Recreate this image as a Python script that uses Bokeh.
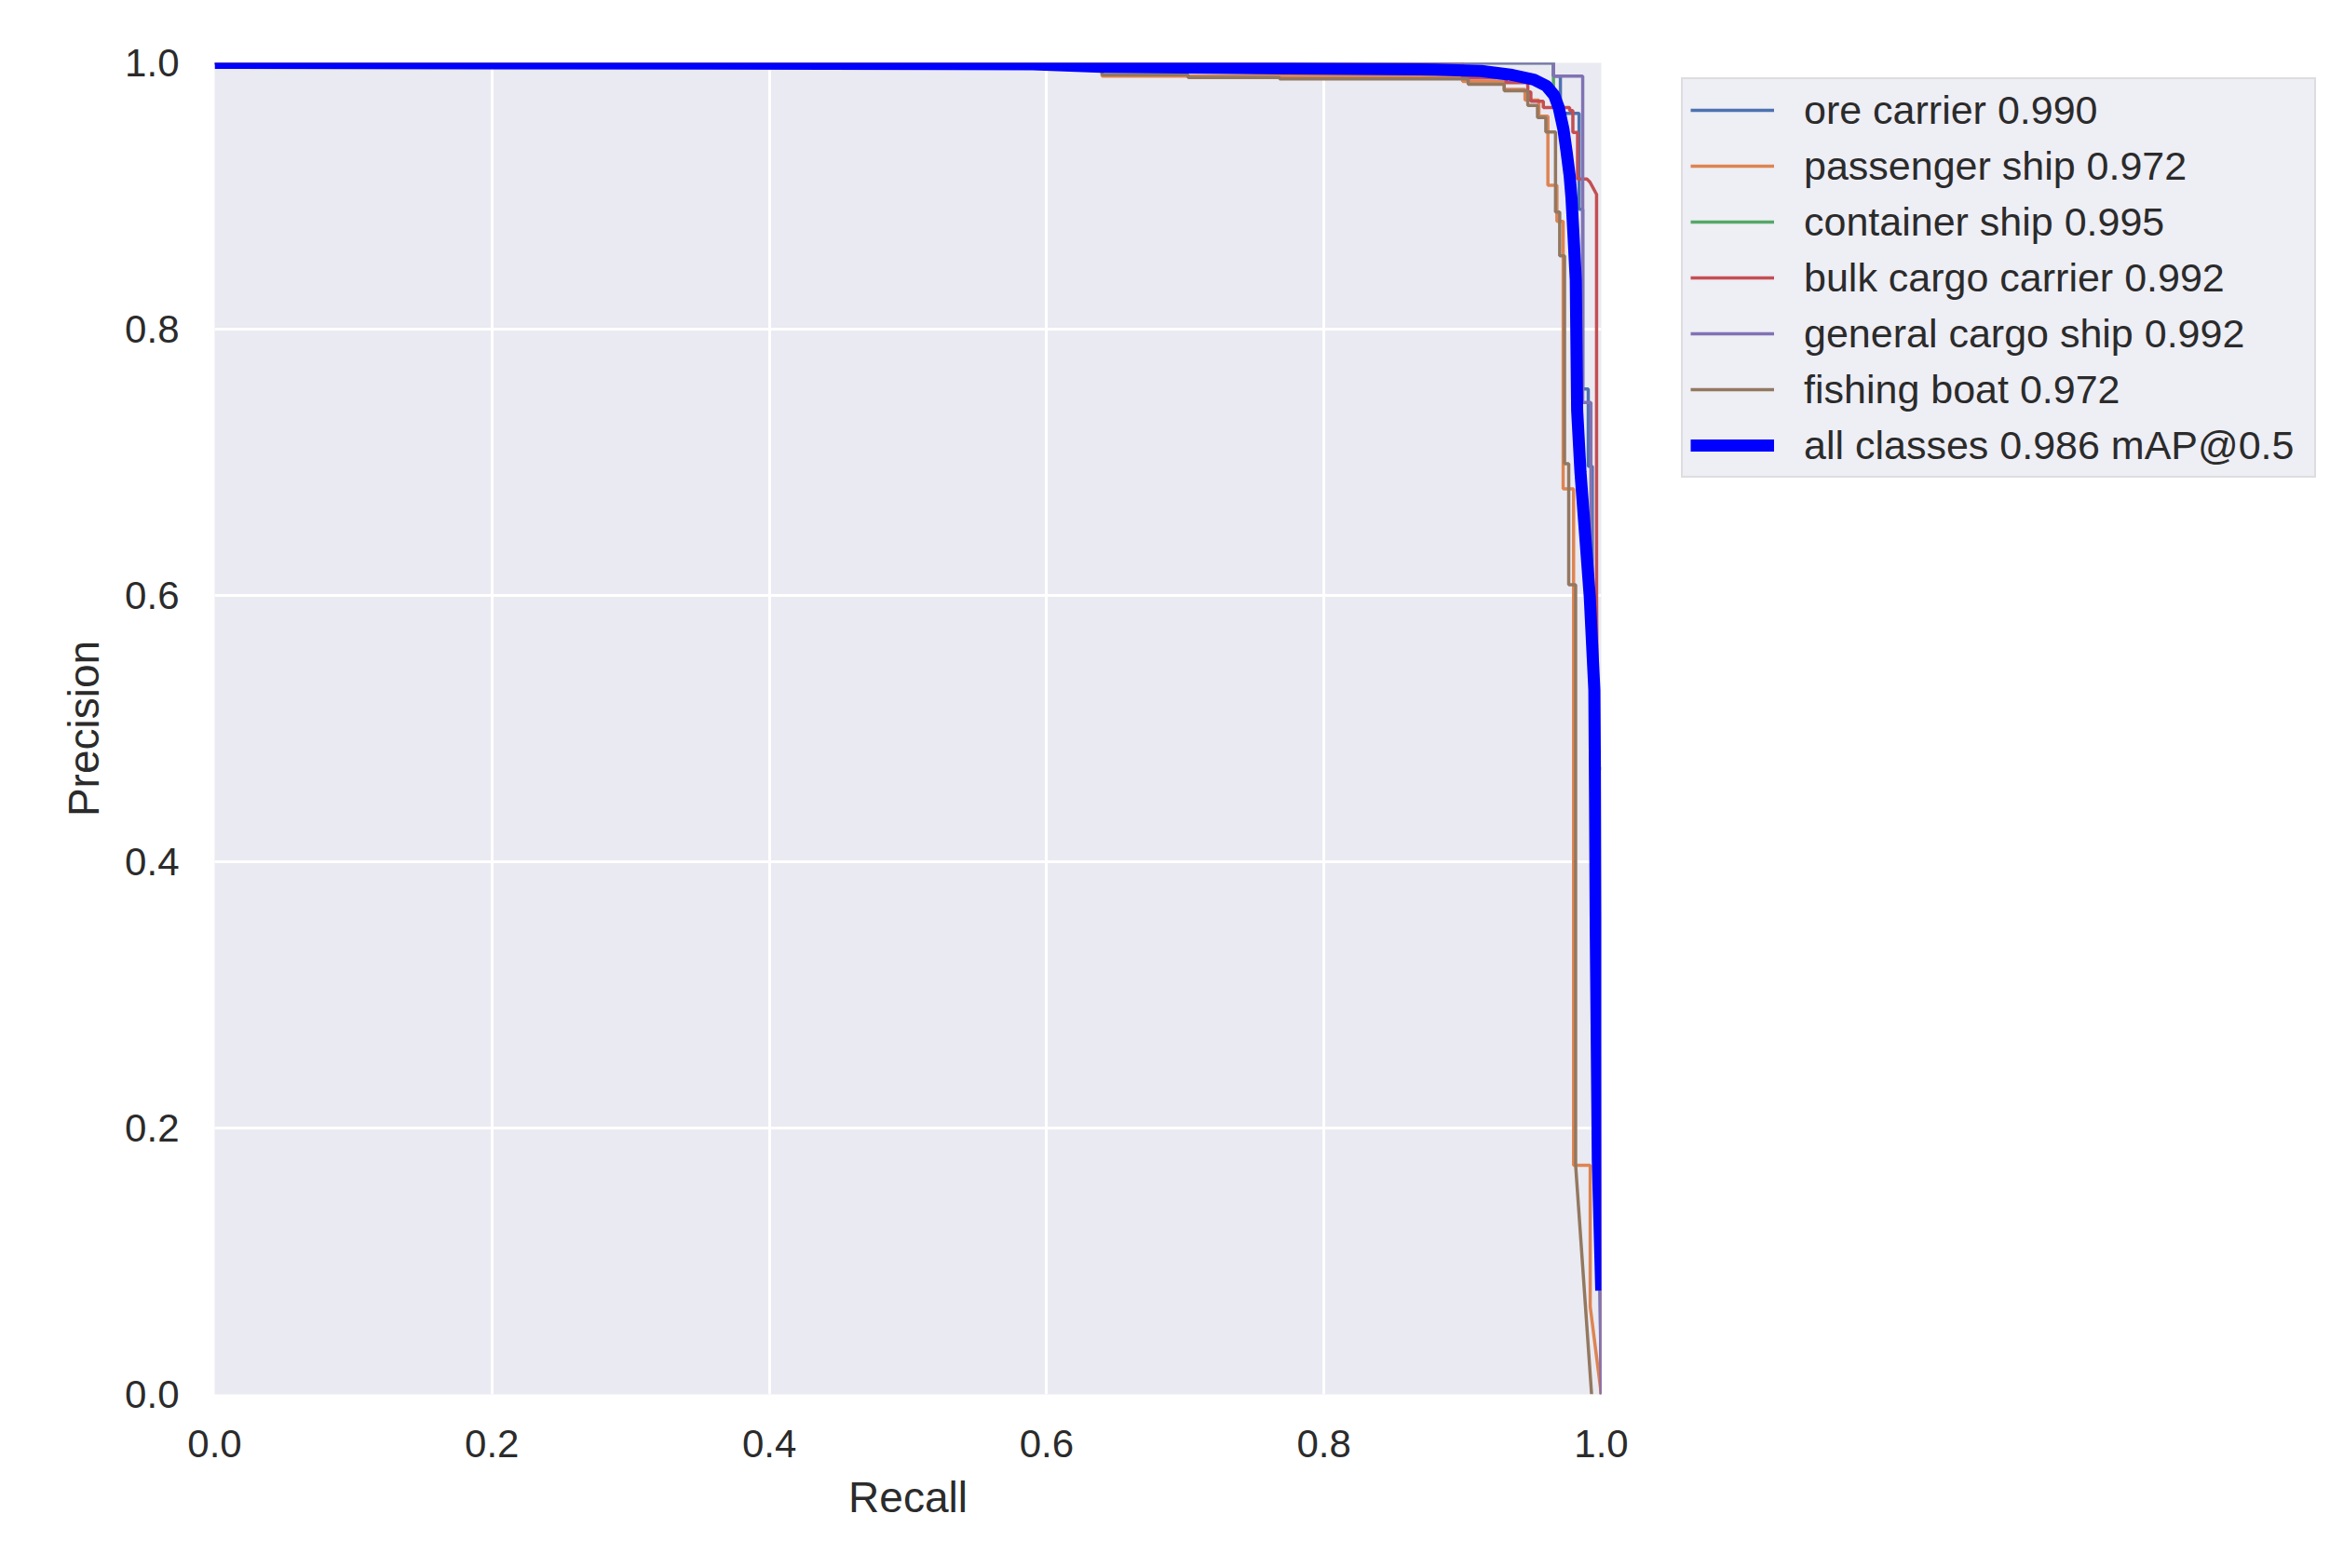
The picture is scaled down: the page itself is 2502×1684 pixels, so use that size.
from bokeh.plotting import figure
from bokeh.models import FixedTicker, PrintfTickFormatter
from bokeh.embed import file_html
from bokeh.resources import INLINE

# ---- data (recall, precision) ----
ore_r = [0.0, 0.9655, 0.9655, 0.9705, 0.9705, 0.984, 0.984, 0.9866, 0.9866, 0.9906, 0.9906, 0.9935, 0.9935, 1.0]
ore_p = [1.0, 1.0, 0.99, 0.99, 0.962, 0.962, 0.89, 0.89, 0.755, 0.755, 0.697, 0.697, 0.60, 0.0]

passenger_r = [0.0, 0.64, 0.64, 0.90, 0.90, 0.93, 0.93, 0.945, 0.945, 0.955, 0.955, 0.9615, 0.9615,
               0.968, 0.968, 0.9725, 0.9725, 0.980, 0.980, 0.992, 0.992, 1.0]
passenger_p = [1.0, 1.0, 0.990, 0.990, 0.986, 0.986, 0.980, 0.980, 0.972, 0.972, 0.960, 0.960, 0.908,
               0.908, 0.881, 0.881, 0.680, 0.680, 0.172, 0.172, 0.066, 0.0]

container_r = [0.0, 0.9655, 0.9655, 0.973, 0.978, 0.983, 0.99, 0.995, 0.997, 1.0]
container_p = [1.0, 1.0, 0.976, 0.95, 0.90, 0.74, 0.60, 0.53, 0.47, 0.47]

bulk_r = [0.0, 0.90, 0.90, 0.9313, 0.9313, 0.947, 0.947, 0.9492, 0.9492, 0.9582, 0.9582, 0.9772, 0.9772,
          0.9795, 0.9795, 0.9829, 0.9829, 0.9896, 0.9918, 0.9966, 0.9966, 1.0]
bulk_p = [1.0, 1.0, 0.9886, 0.9886, 0.9851, 0.9851, 0.9781, 0.9781, 0.9711, 0.9711, 0.9664, 0.9664, 0.9641,
          0.9641, 0.9478, 0.9478, 0.9128, 0.9128, 0.9105, 0.9012, 0.60, 0.0]

general_r = [0.0, 0.9655, 0.9655, 0.9866, 0.9866, 0.9925, 0.9925, 1.0]
general_p = [1.0, 1.0, 0.99, 0.99, 0.745, 0.745, 0.60, 0.0]

fishing_r = [0.0, 0.586, 0.586, 0.64, 0.64, 0.702, 0.702, 0.768, 0.768, 0.904, 0.904, 0.930, 0.930, 0.947,
             0.947, 0.954, 0.954, 0.960, 0.960, 0.967, 0.967, 0.970, 0.970, 0.9735, 0.9735, 0.9765, 0.9765,
             0.9815, 0.9815, 0.993]
fishing_p = [1.0, 1.0, 0.997, 0.997, 0.991, 0.991, 0.989, 0.989, 0.988, 0.988, 0.984, 0.984, 0.979, 0.979,
             0.968, 0.968, 0.959, 0.959, 0.948, 0.948, 0.888, 0.888, 0.855, 0.855, 0.699, 0.699, 0.608,
             0.608, 0.172, 0.0]

all_r = [0.0, 0.59, 0.64, 0.75, 0.88, 0.9134, 0.9358, 0.9514, 0.9604, 0.966, 0.9693, 0.9727, 0.9749,
         0.9772, 0.9785, 0.980, 0.9816, 0.9826, 0.985, 0.9917, 0.995, 0.9955, 0.996, 0.9975, 1.0]
all_p = [1.0, 0.999, 0.997, 0.996, 0.995, 0.9939, 0.9909, 0.9874, 0.9827, 0.9757, 0.9664, 0.9501, 0.9338,
         0.9151, 0.8988, 0.87, 0.837, 0.739, 0.6925, 0.599, 0.529, 0.45, 0.35, 0.176, 0.078]

labels = ["ore carrier 0.990", "passenger ship 0.972", "container ship 0.995",
          "bulk cargo carrier 0.992", "general cargo ship 0.992", "fishing boat 0.972",
          "all classes 0.986 mAP@0.5"]
colors = ["#4c72b0", "#dd8452", "#55a868", "#c44e52", "#8172b3", "#937860", "#0000ff"]
ticks = [0.0, 0.2, 0.4, 0.6, 0.8, 1.0]

FONT = "Liberation Sans"
TXT = "#2b2b2b"

p = figure(frame_width=1489, frame_height=1430, x_range=(0, 1), y_range=(0, 1),
           output_backend="svg", toolbar_location=None,
           min_border_left=230, min_border_right=767, min_border_top=67, min_border_bottom=171,
           background_fill_color="#eaeaf2", border_fill_color="white")
p.outline_line_color = None

series = [(ore_r, ore_p), (passenger_r, passenger_p), (container_r, container_p),
          (bulk_r, bulk_p), (general_r, general_p), (fishing_r, fishing_p)]
for (r, pr), lab, col in zip(series, labels[:6], colors[:6]):
    p.line(r, pr, line_color=col, line_width=3.5, legend_label=lab)
p.line(all_r, all_p, line_color=colors[6], line_width=13, legend_label=labels[6])

for ax in (p.xaxis, p.yaxis):
    ax.ticker = FixedTicker(ticks=ticks)
    ax.formatter = PrintfTickFormatter(format="%.1f")
    ax.axis_line_color = None
    ax.major_tick_line_color = None
    ax.minor_tick_line_color = None
    ax.major_tick_out = 0
    ax.major_tick_in = 0
    ax.major_label_text_font = FONT
    ax.major_label_text_font_size = "42px"
    ax.major_label_text_color = TXT
    ax.axis_label_text_font = FONT
    ax.axis_label_text_font_size = "46px"
    ax.axis_label_text_font_style = "normal"
    ax.axis_label_text_color = TXT

p.xaxis.axis_label = "Recall"
p.yaxis.axis_label = "Precision"
p.xaxis.major_label_standoff = 38
p.yaxis.major_label_standoff = 38
p.xaxis.axis_label_standoff = 14
p.yaxis.axis_label_standoff = 15

p.grid.grid_line_color = "white"
p.grid.grid_line_width = 3
p.xgrid.ticker = FixedTicker(ticks=ticks)
p.ygrid.ticker = FixedTicker(ticks=ticks)

lg = p.legend[0]
p.center.remove(lg)
p.add_layout(lg, "right")
lg.location = (86, 984)
lg.margin = 43
lg.label_text_font = FONT
lg.label_text_font_size = "43px"
lg.label_text_color = TXT
lg.glyph_width = 90
lg.glyph_height = 50
lg.label_height = 50
lg.label_width = 540
lg.label_standoff = 32
lg.spacing = 10
lg.padding = 8
lg.border_line_color = "#cccccc"
lg.border_line_width = 2
lg.background_fill_color = "#eaeaf2"
lg.background_fill_alpha = 0.8

open("out.html", "w").write(file_html(p, INLINE))
